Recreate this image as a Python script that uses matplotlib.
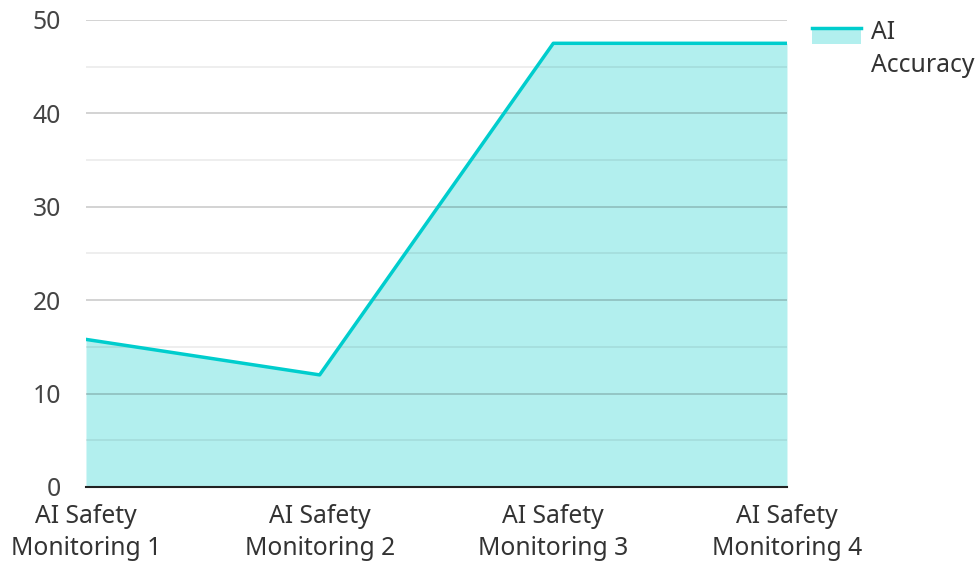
import matplotlib
matplotlib.use("Agg")
import matplotlib.pyplot as plt
from matplotlib.lines import Line2D
from matplotlib.patches import Patch, Rectangle
from matplotlib.legend_handler import HandlerBase
from matplotlib.ticker import MultipleLocator

categories = ["AI Safety\nMonitoring 1", "AI Safety\nMonitoring 2",
              "AI Safety\nMonitoring 3", "AI Safety\nMonitoring 4"]
accuracy = [15.8, 12.0, 47.5, 47.5]
series_name = "AI\nAccuracy"

line_color = "#00cdcd"
fill_color = "#b2efee"
fsize = 17.8


class AreaHandler(HandlerBase):
    # patch with the line along its top edge, lifted to the first text line
    def __init__(self, lift):
        super().__init__()
        self.lift = lift

    def create_artists(self, legend, orig_handle, xdescent, ydescent,
                       width, height, fontsize, trans):
        y0 = -ydescent + self.lift
        rect = Rectangle((-xdescent, y0), width, height,
                         facecolor=fill_color, edgecolor="none", transform=trans)
        line = Line2D([-xdescent, -xdescent + width], [y0 + height, y0 + height],
                      color=line_color, linewidth=2.5, transform=trans)
        return [rect, line]


plt.rcParams['font.family'] = ['Noto Sans', 'DejaVu Sans']

fig = plt.figure(figsize=(9.77, 5.62), dpi=100)
ax = fig.add_axes([0.088, 0.1335, 0.7175, 0.831])

x = list(range(len(categories)))
ax.fill_between(x, accuracy, 0, color=fill_color, linewidth=0, zorder=1)
ax.plot(x, accuracy, color=line_color, linewidth=2.5, zorder=3)

ax.set_xlim(0, len(categories) - 1)
ax.set_ylim(0, 50)
ax.set_xticks(x)
ax.set_xticklabels(categories, fontsize=fsize, color="#333333", linespacing=1.4)
ax.yaxis.set_major_locator(MultipleLocator(10))
ax.yaxis.set_minor_locator(MultipleLocator(5))
ax.tick_params(axis='y', labelsize=fsize, colors="#444444", length=0, pad=18)
ax.tick_params(axis='y', which='minor', length=0)
ax.tick_params(axis='x', length=0, pad=12)

ax.grid(axis='y', which='major', color="black", alpha=0.2, linewidth=1.2, zorder=2)
ax.grid(axis='y', which='minor', color="black", alpha=0.08, linewidth=1.2, zorder=2)
ax.set_axisbelow(False)

for side in ["left", "right", "top"]:
    ax.spines[side].set_visible(False)
ax.spines["bottom"].set_color("#222222")
ax.spines["bottom"].set_linewidth(1.5)
ax.spines["bottom"].set_zorder(4)

proxy = Patch(facecolor=fill_color)
leg = fig.legend([proxy], [series_name], loc="upper left",
                 bbox_to_anchor=(812 / 977, 1 - 20 / 562), frameon=False,
                 fontsize=fsize, handlelength=2.0, handleheight=0.6,
                 handletextpad=0.38, borderpad=0, borderaxespad=0,
                 handler_map={Patch: AreaHandler(lift=10)})
for t in leg.get_texts():
    t.set_color("#333333")
    t.set_linespacing(1.4)

fig.savefig("out.png", dpi=100)
